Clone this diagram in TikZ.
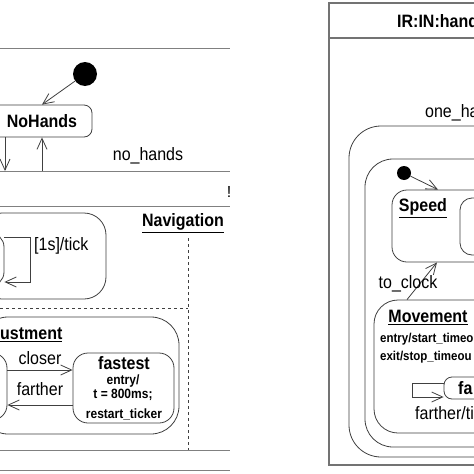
\documentclass[tikz,border=0pt]{standalone}
\usepackage{fontspec}
\setmainfont{Liberation Sans}
\usetikzlibrary{arrows.meta}
\newcommand{\tallt}[1]{\scalebox{1}[1.12]{#1}}
\begin{document}
\begin{tikzpicture}[x=1pt,y=-1pt,
  line/.style={draw=black!75, line width=0.8pt},
  sep/.style={draw=black!50, line width=1pt},
  frame/.style={draw=black!55, line width=1.3pt},
  statebox/.style={draw=black!75, line width=0.8pt, rectangle, inner sep=0pt},
  arr/.style={draw=black!75, line width=0.8pt, -{Straight Barb[length=11pt,width=10pt]}},
  txt/.style={inner sep=0pt, font=\fontsize{16}{18}\selectfont},
  btxt/.style={inner sep=0pt, font=\fontsize{16}{18}\selectfont\bfseries},
  stxt/.style={inner sep=0pt, font=\fontsize{12}{14}\selectfont\bfseries},
  mtxt/.style={inner sep=0pt, font=\fontsize{11.5}{14}\selectfont\bfseries},
  initial/.style={circle, fill=black, inner sep=0pt}]
\clip (0,0) rectangle (474,474);
\fill[white] (0,0) rectangle (474,474);

% ---------- left part ----------
\draw[sep] (0,48) -- (230,48);
\draw[sep] (0,171) -- (230,171);
\draw[sep] (0,206) -- (230,206);
\draw[sep] (0,450) -- (230,450);
\draw[sep] (0,470) -- (230,470);

\node[initial, minimum size=24pt] (initL) at (85,74) {};
\node[statebox, rounded corners=8pt, minimum width=100pt, minimum height=32pt, btxt] (nohands) at (42,121) {\tallt{NoHands}};
\draw[arr] (initL) -- (nohands.north);
\coordinate (downend) at (5,171);
\coordinate (upstart) at (42,171);
\draw[arr] (nohands.south -| downend) -- (downend);
\draw[arr] (upstart) -- (nohands.south -| upstart);
\node[txt] (nohandslbl) at (148,156) {\tallt{no\_hands}};
\node[txt] (bang) at (229,192) {!};

% Navigation
\draw[line, rounded corners=22pt] (-20,213) rectangle (106,299);
\node[statebox, rounded corners=14pt, minimum width=44pt, minimum height=53pt] (lstateA) at (-18,259.5) {};
\draw[arr] ([yshift=22.5pt]lstateA.east) -- ++(26,0) -- ++(0,45) -- ([yshift=-22.5pt]lstateA.east);
\node[txt, anchor=west] (ticklbl) at (34,246) {\tallt{[1s]/tick}};
\node[btxt] (navlbl) at (183,223) {\tallt{\underline{Navigation}}};
\draw[line, dashed] (0,308) -- (188,308);
\draw[line, dashed] (188,238) -- (188,450);

% Adjustment
\draw[line, rounded corners=28pt] (-20,317) rectangle (179,434);
\node[btxt, anchor=west] (adjlbl) at (0,335) {\tallt{\underline{ustment}}};
\node[statebox, rounded corners=15pt, minimum width=47pt, minimum height=67pt] (lstateB) at (-16.5,386.5) {};
\node[statebox, rounded corners=15pt, minimum width=101pt, minimum height=70pt] (fastest) at (123.5,388) {};
\draw[arr] ([yshift=16.5pt]lstateB.east) -- ([yshift=16.5pt]lstateB.east -| fastest.west);
\draw[arr] ([yshift=-18.5pt]lstateB.east -| fastest.west) -- ([yshift=-18.5pt]lstateB.east);
\node[txt] (closerlbl) at (40,358) {\tallt{closer}};
\node[txt] (fartherlbl) at (40,389) {\tallt{farther}};
\node[btxt] (fastestname) at (124,363) {\tallt{fastest}};
\node[stxt] (fastestA) at (123,381) {\tallt{entry/}};
\node[stxt] (fastestB) at (123,395) {\tallt{t = 800ms;}};
\node[stxt] (fastestC) at (124,414) {\tallt{restart\_ticker}};

% ---------- right part ----------
\draw[frame] (329,3) rectangle (540,465);
\draw[frame] (329,38) -- (540,38);
\node[btxt, anchor=west] (title) at (397,21) {\tallt{IR:IN:hand}};
\node[txt, anchor=west] (onelbl) at (425,113) {\tallt{one\_ha}};
\draw[line, rounded corners=32pt] (349,126) rectangle (560,457);
\draw[line, rounded corners=28pt] (365,159) rectangle (550,447);

\node[initial, minimum size=14pt] (initR) at (404,173) {};
\node[statebox, rounded corners=15pt, minimum width=168pt, minimum height=72pt] (speed) at (476,226) {};
\node[btxt] (speedlbl) at (423,208) {\tallt{\underline{Speed}}};
\draw[line, rounded corners=12pt] (460,198) rectangle (560,255);
\coordinate (speedin) at (438,190);
\draw[arr] (initR) -- (speed.north -| speedin);

\node[statebox, rounded corners=24pt, minimum width=186pt, minimum height=133pt] (movement) at (467,366.5) {};
\node[btxt] (movlbl) at (428,318) {\tallt{\underline{Movement}}};
\node[mtxt, anchor=west] (moventry) at (380,339) {\tallt{entry/start\_timeo}};
\node[mtxt, anchor=west] (movexit) at (380,357) {\tallt{exit/stop\_timeou}};
\coordinate (mvout) at (407,300);
\coordinate (spin) at (437,262);
\draw[arr] (movement.north -| mvout) -- (speed.south -| spin);
\node[txt] (toclock) at (408,284) {\tallt{to\_clock}};

\node[statebox, rounded corners=8pt, minimum width=116pt, minimum height=22pt] (fa) at (502,388) {};
\node[btxt, anchor=west] (falbl) at (458,388) {\tallt{fa}};
\draw[arr] ([yshift=5pt]fa.west) -- ++(-31,0) -- ++(0,14) -- ([yshift=-9pt]fa.west);
\node[txt, anchor=west] (fartherti) at (415,413) {\tallt{farther/ti}};
\end{tikzpicture}
\end{document}
